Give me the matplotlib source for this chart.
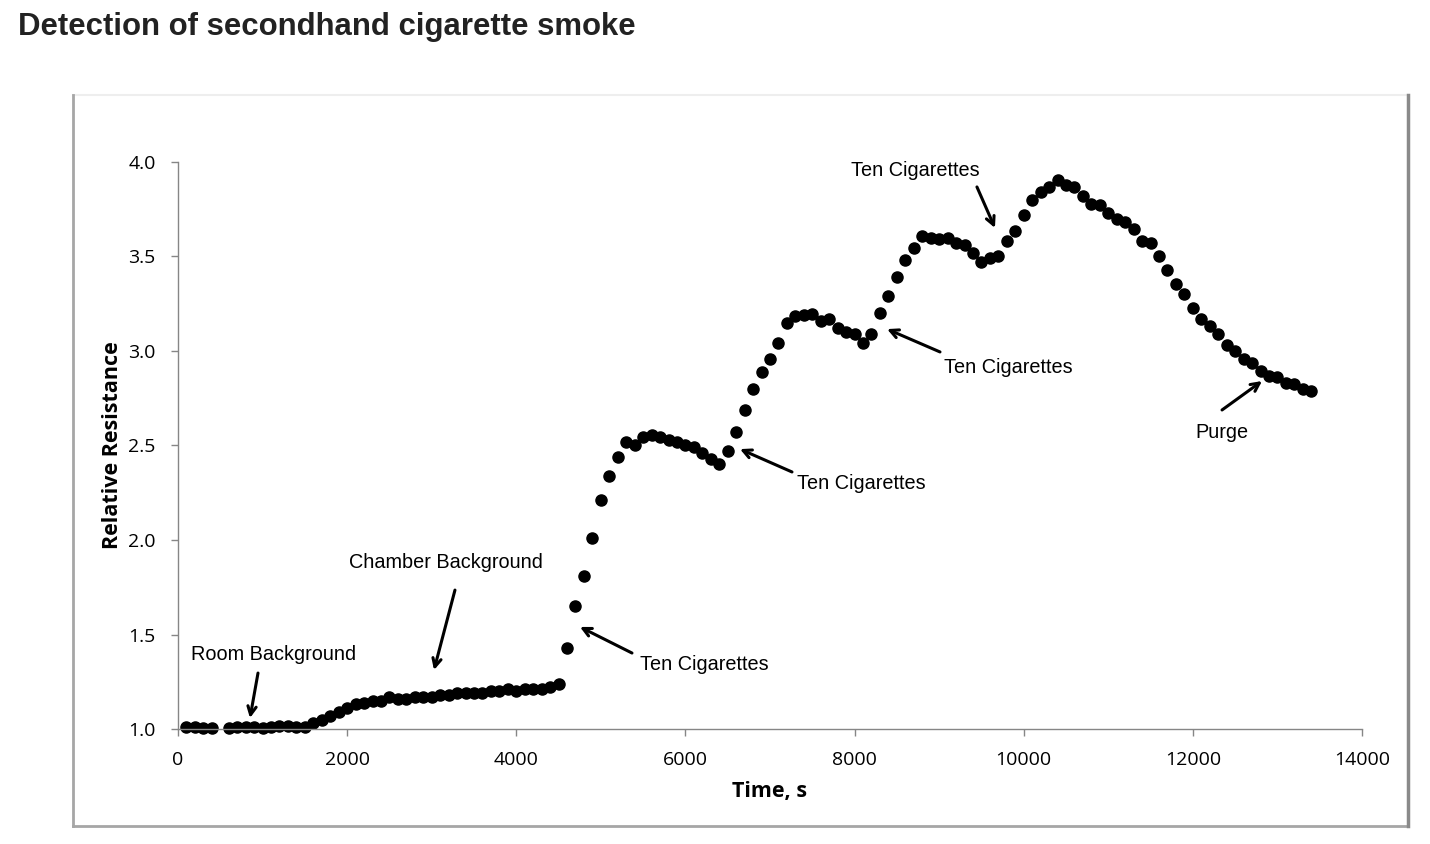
import matplotlib.pyplot as plt
from matplotlib.lines import Line2D

# Sensor response, sampled every 100 s (sample at 500 s missing)
time_s = [
    100, 200, 300, 400,
    600, 700, 800, 900, 1000, 1100, 1200, 1300, 1400, 1500,
    1600, 1700, 1800, 1900, 2000, 2100, 2200, 2300, 2400, 2500,
    2600, 2700, 2800, 2900, 3000, 3100, 3200, 3300, 3400, 3500,
    3600, 3700, 3800, 3900, 4000, 4100, 4200, 4300, 4400, 4500,
    4600, 4700, 4800, 4900, 5000, 5100, 5200, 5300, 5400, 5500,
    5600, 5700, 5800, 5900, 6000, 6100, 6200, 6300, 6400, 6500,
    6600, 6700, 6800, 6900, 7000, 7100, 7200, 7300, 7400, 7500,
    7600, 7700, 7800, 7900, 8000, 8100, 8200, 8300, 8400, 8500,
    8600, 8700, 8800, 8900, 9000, 9100, 9200, 9300, 9400, 9500,
    9600, 9700, 9800, 9900, 10000, 10100, 10200, 10300, 10400, 10500,
    10600, 10700, 10800, 10900, 11000, 11100, 11200, 11300, 11400, 11500,
    11600, 11700, 11800, 11900, 12000, 12100, 12200, 12300, 12400, 12500,
    12600, 12700, 12800, 12900, 13000, 13100, 13200, 13300, 13400,
]
resistance = [
    1.01, 1.01, 1.005, 1.005,
    1.005, 1.01, 1.01, 1.01, 1.005, 1.01, 1.015, 1.015, 1.01, 1.01,
    1.03, 1.05, 1.07, 1.09, 1.11, 1.13, 1.14, 1.15, 1.15, 1.17,
    1.16, 1.16, 1.17, 1.17, 1.17, 1.18, 1.18, 1.19, 1.19, 1.19,
    1.19, 1.20, 1.20, 1.21, 1.20, 1.21, 1.21, 1.21, 1.22, 1.24,
    1.43, 1.65, 1.81, 2.01, 2.21, 2.34, 2.44, 2.52, 2.50, 2.545,
    2.555, 2.545, 2.53, 2.52, 2.50, 2.49, 2.46, 2.43, 2.40, 2.47,
    2.57, 2.69, 2.80, 2.89, 2.96, 3.04, 3.15, 3.185, 3.19, 3.195,
    3.16, 3.17, 3.12, 3.10, 3.09, 3.04, 3.09, 3.20, 3.29, 3.39,
    3.48, 3.545, 3.61, 3.60, 3.59, 3.60, 3.57, 3.56, 3.52, 3.47,
    3.49, 3.50, 3.58, 3.635, 3.72, 3.80, 3.84, 3.87, 3.905, 3.88,
    3.87, 3.82, 3.78, 3.77, 3.73, 3.70, 3.68, 3.645, 3.58, 3.57,
    3.50, 3.43, 3.355, 3.30, 3.23, 3.17, 3.13, 3.09, 3.03, 3.00,
    2.96, 2.935, 2.895, 2.87, 2.86, 2.83, 2.825, 2.80, 2.79,
]

x_ticks = [0, 2000, 4000, 6000, 8000, 10000, 12000, 14000]
y_ticks = [1.0, 1.5, 2.0, 2.5, 3.0, 3.5, 4.0]

# label text, text position, arrow tail, arrow head, horizontal alignment
notes = [
    ("Room Background", (1135, 1.392), (946, 1.296), (851, 1.058), "center"),
    ("Chamber Background", (3169, 1.880), (3275, 1.735), (3027, 1.312), "center"),
    ("Ten Cigarettes", (5463, 1.340), (5368, 1.402), (4753, 1.54), "left"),
    ("Ten Cigarettes", (7319, 2.298), (7260, 2.36), (6645, 2.481), "left"),
    ("Ten Cigarettes", (9057, 2.912), (9010, 2.995), (8384, 3.116), "left"),
    ("Ten Cigarettes", (8714, 3.954), (9447, 3.868), (9660, 3.651), "center"),
    ("Purge", (12345, 2.568), (12345, 2.688), (12818, 2.841), "center"),
]

fig = plt.figure(figsize=(14.3, 8.44), dpi=100)
ax = fig.add_axes([178 / 1430, 1 - 729 / 844, 1184 / 1430, 567 / 844])

ax.plot(time_s, resistance, "o", color="black", ms=8, clip_on=False)

ax.set_xlim(0, 14000)
ax.set_ylim(1.0, 4.0)
ax.set_xticks(x_ticks)
ax.set_yticks(y_ticks)
ax.set_yticklabels([f"{v:.1f}" for v in y_ticks])

ax.spines[["top", "right"]].set_visible(False)
for s in ("left", "bottom"):
    ax.spines[s].set_color("#868686")
    ax.spines[s].set_linewidth(1.0)
ax.tick_params(direction="out", length=5, width=1.0, color="#868686",
               labelsize=14, labelcolor="black")
ax.tick_params(axis="x", pad=11)
ax.tick_params(axis="y", pad=11)
for lbl in ax.get_xticklabels() + ax.get_yticklabels():
    lbl.set_family("Open Sans")

ax.set_xlabel("Time, s", family="Open Sans", fontsize=15.5, fontweight="bold",
              va="center")
ax.xaxis.set_label_coords(0.5, (729 - 792) / 567)
ax.set_ylabel("Relative Resistance", family="Open Sans", fontsize=15.5,
              fontweight="bold", va="center")
ax.yaxis.set_label_coords((112 - 178) / 1184, 0.5)

for text, pos, tail, head, ha in notes:
    ax.text(pos[0], pos[1], text, ha=ha, va="center", fontsize=14.3,
            family="Liberation Sans")
    ax.annotate("", xy=head, xytext=tail,
                arrowprops=dict(arrowstyle="->,head_length=0.6,head_width=0.3",
                                color="black", lw=2.2,
                                shrinkA=0, shrinkB=0))

# outer frame of the chart panel
x0, x1 = 73 / 1430, 1408 / 1430
y0, y1 = 1 - 826 / 844, 1 - 95 / 844
fig.add_artist(Line2D([x0, x1], [y1, y1], color="#eeeeee", lw=1.5))
fig.add_artist(Line2D([x0, x0], [y0, y1], color="#a6a6a6", lw=2))
fig.add_artist(Line2D([x0, x1], [y0, y0], color="#a6a6a6", lw=2))
fig.add_artist(Line2D([x1, x1], [y0, y1], color="#8a8a8a", lw=2.5))

fig.text(18 / 1430, 1 - 27 / 844, "Detection of secondhand cigarette smoke",
         fontsize=22.4, fontweight="bold", family="Liberation Sans",
         color="#222222", va="center", ha="left")

fig.savefig("out.png", dpi=100)
